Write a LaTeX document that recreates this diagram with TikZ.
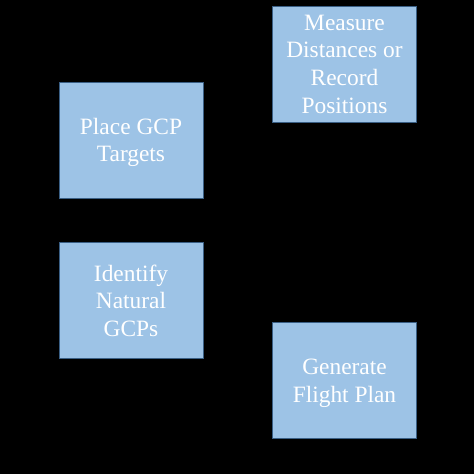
\documentclass[tikz,border=0pt]{standalone}
\usepackage{fontspec}
\setmainfont{Liberation Serif}
\usepackage{xcolor}
\usepackage{tikz}
\definecolor{boxfill}{HTML}{9DC3E6}
\definecolor{boxline}{HTML}{3A5F85}

\begin{document}
\begin{tikzpicture}[x=1pt, y=-1pt, every node/.style={font=\fontsize{23.4pt}{27.7pt}\selectfont},
  gcpbox/.style={draw=boxline, line width=1pt, fill=boxfill, text=white, align=center,
    minimum width=144pt, minimum height=116pt, inner sep=0pt, text depth=0pt,
    execute at begin node={\rule{0pt}{20pt}}}]
  \fill[black] (0,0) rectangle (474,474);
  \useasboundingbox (0,0) rectangle (474,474);
  \node[gcpbox] (place) at (131,140) {Place GCP\\Targets};
  \node[gcpbox] (measure) at (344.5,64) {Measure\\Distances or\\Record\\Positions};
  \node[gcpbox] (identify) at (131,300.5) {Identify\\Natural\\GCPs};
  \node[gcpbox] (generate) at (344.5,380.5) {Generate\\Flight Plan};
\end{tikzpicture}
\end{document}
